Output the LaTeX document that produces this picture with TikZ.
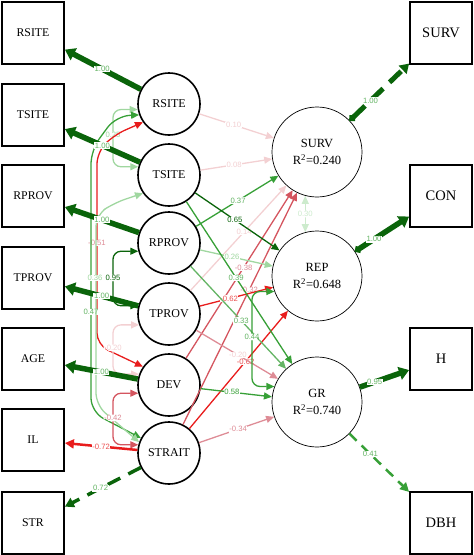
\documentclass[tikz,border=0pt]{standalone}
\usepackage{fontspec}
\setmainfont{Liberation Serif}
\newfontfamily\lblfont{Liberation Sans}
\usetikzlibrary{arrows.meta}
\definecolor{dkg}{RGB}{10,100,10}
\definecolor{mg}{RGB}{55,160,55}
\definecolor{lg}{RGB}{100,180,100}
\definecolor{pg}{RGB}{160,215,160}
\definecolor{ppg}{RGB}{205,235,205}
\definecolor{rd}{RGB}{232,28,28}
\definecolor{lrd}{RGB}{235,80,80}
\definecolor{mr}{RGB}{212,85,95}
\definecolor{pr}{RGB}{222,140,150}
\definecolor{pp}{RGB}{243,208,210}
\begin{document}
\begin{tikzpicture}[x=1pt,y=-1pt,
 obsL/.style={draw, line width=1.8pt, minimum width=62pt, minimum height=62pt, inner sep=0pt, font=\fontsize{11.8}{14}\selectfont},
 obsR/.style={draw, line width=1.8pt, minimum width=62pt, minimum height=62pt, inner sep=0pt, font=\fontsize{14.5}{16}\selectfont},
 latS/.style={circle, draw, line width=1.6pt, minimum size=62pt, inner sep=0pt, font=\fontsize{12}{14}\selectfont},
 latL/.style={circle, draw, line width=0.7pt, minimum size=90pt, inner sep=0pt, font=\fontsize{12.5}{17}\selectfont, align=center},
 lbl/.style={font=\lblfont\fontsize{7.7}{8}\selectfont, fill=white, inner sep=0.6pt},
 meas/.style={line width=5.5pt, draw=dkg, -{Triangle[length=10pt,width=13pt]}},
 spath/.style={line width=1.3pt, -{Triangle[length=8pt,width=7pt]}},
 cov/.style={line width=1.3pt, {Triangle[length=8pt,width=7pt]}-{Triangle[length=8pt,width=7pt]}, rounded corners=8pt},
]
\useasboundingbox (0,0) rectangle (474,555);
% observed boxes left
\node[obsL] (bRSITE) at (33,33) {RSITE};
\node[obsL] (bTSITE) at (33,115) {TSITE};
\node[obsL] (bRPROV) at (33,196) {RPROV};
\node[obsL] (bTPROV) at (33,278) {TPROV};
\node[obsL] (bAGE) at (33,359) {AGE};
\node[obsL] (bIL) at (33,440) {IL};
\node[obsL] (bSTR) at (33,523) {STR};
% observed boxes right
\node[obsR] (bSURV) at (441,33) {SURV};
\node[obsR] (bCON) at (441,196) {CON};
\node[obsR] (bH) at (441,359) {H};
\node[obsR] (bDBH) at (441,523) {DBH};
% latent small
\node[latS] (cRSITE) at (169,104) {RSITE};
\node[latS] (cTSITE) at (169,175) {TSITE};
\node[latS] (cRPROV) at (169,243) {RPROV};
\node[latS] (cTPROV) at (169,314) {TPROV};
\node[latS] (cDEV) at (169,385) {DEV};
\node[latS] (cSTRAIT) at (169,453) {STRAIT};
% latent large
\node[latL] (cSURV) at (317,152) {SURV\\R\textsuperscript{2}=0.240};
\node[latL] (cREP) at (317,276) {REP\\R\textsuperscript{2}=0.648};
\node[latL] (cGR) at (317,402) {GR\\R\textsuperscript{2}=0.740};

% left covariances
\draw[cov, draw=pg] (cRSITE.190) -| (113,135) node[lbl,text=pg]{0.25} |- (cTSITE.165);
\draw[cov, draw=rd, rounded corners=12pt] (cRSITE.215) -- (114,135) -- (97,152) -- (97,345) -- (cDEV.145);
\node[lbl, text=pr] (l051) at (97,243) {-0.51};
\draw[cov, draw=mg, rounded corners=14pt] (cRSITE.200) -- (116,116) -- (91,150) -- (91,412) -- (cSTRAIT.152);
\node[lbl, text=lg] (l047) at (91,312) {0.47};
\draw[cov, draw=pg, rounded corners=12pt] (cTSITE.215) -- (114,203) -- (96,215) -- (96,405) -- (cSTRAIT.160);
\node[lbl, text=pg] (l036) at (95,278) {0.36};
\draw[cov, draw=dkg] (cRPROV.195) -| (113,278) node[lbl,text=dkg]{0.95} |- (cTPROV.165);
\draw[cov, draw=pp] (cTPROV.200) -| (113,348) node[lbl,text=pp]{-0.20} |- (cDEV.160);
\draw[cov, draw=mr] (cDEV.195) -| (113,418) node[lbl,text=pr]{-0.42} |- (cSTRAIT.165);

% structural paths
\draw[spath, draw=pp] (cRSITE) -- node[lbl, text=pp, pos=0.46]{0.10} (cSURV);
\draw[spath, draw=pp] (cTSITE) -- node[lbl, text=pp, pos=0.47]{0.08} (cSURV);
\draw[spath, draw=mg] (cRPROV) -- node[lbl, text=lg, pos=0.51]{0.37} (cSURV);
\draw[spath, draw=pp] (cTPROV) -- node[lbl, text=pp, pos=0.56]{0.14} (cSURV);
\draw[spath, draw=mr] (cDEV) -- node[lbl, text=pr, pos=0.54]{-0.38} (cSURV);
\draw[spath, draw=mr] (cSTRAIT) -- node[lbl, text=pr, pos=0.58]{-0.32} (cSURV);
\draw[spath, draw=dkg] (cTSITE) -- node[lbl, text=dkg, pos=0.47]{0.65} (cREP);
\draw[spath, draw=pg] (cRPROV) -- node[lbl, text=pg, pos=0.44]{0.26} (cREP);
\draw[spath, draw=rd] (cTPROV) -- node[lbl, text=lrd, pos=0.40]{-0.62} (cREP);
\draw[spath, draw=rd] (cSTRAIT) -- node[lbl, text=lrd, pos=0.57]{-0.62} (cREP);
\draw[spath, draw=mg] (cTSITE) -- node[lbl, text=lg, pos=0.47]{0.39} (cGR);
\draw[spath, draw=lg] (cRPROV) -- node[lbl, text=lg, pos=0.53]{0.33} (cGR);
\draw[spath, draw=pr] (cTPROV) -- node[lbl, text=pp, pos=0.51]{-0.20} (cGR);
\draw[spath, draw=mg] (cDEV) -- node[lbl, text=mg, pos=0.44]{0.58} (cGR);
\draw[spath, draw=pr] (cSTRAIT) -- node[lbl, text=pr, pos=0.52]{-0.34} (cGR);
% right covariances
\draw[cov, draw=mg] (cREP.200) -| (252,337) node[lbl,text=lg]{0.44} |- (cGR.160);
\draw[cov, draw=ppg, line width=1pt] (cSURV.255) -- node[lbl, text=ppg]{0.30} (cREP.105);

% measurement paths left
\draw[meas] (cRSITE) -- node[lbl, text=lg, pos=0.51]{1.00} (bRSITE);
\draw[meas] (cTSITE) -- node[lbl, text=lg, pos=0.5]{1.00} (bTSITE);
\draw[meas] (cRPROV) -- node[lbl, text=lg, pos=0.5]{1.00} (bRPROV);
\draw[meas] (cTPROV) -- node[lbl, text=lg, pos=0.5]{1.00} (bTPROV);
\draw[meas] (cDEV) -- node[lbl, text=lg, pos=0.5]{1.00} (bAGE);
\draw[line width=2.5pt, draw=rd, -{Triangle[length=9pt,width=9pt]}] (cSTRAIT) -- node[lbl, text=lrd, pos=0.5]{-0.72} (bIL);
\draw[line width=3.5pt, draw=dkg, dash pattern=on 14pt off 9pt, -{Triangle[length=9pt,width=10pt]}] (cSTRAIT) -- node[lbl, text=lg, pos=0.53]{0.72} (bSTR);
% measurement paths right
\draw[line width=5pt, draw=dkg, dash pattern=on 16pt off 9pt, {Circle[length=7pt]}-{Triangle[length=9pt,width=11pt]}] (cSURV) -- node[lbl, text=lg, pos=0.35]{1.00} (bSURV);
\draw[meas, {Circle[length=7pt]}-{Triangle[length=10pt,width=13pt]}] (cREP) -- node[lbl, text=lg, pos=0.35]{1.00} (bCON);
\draw[meas] (cGR) -- node[lbl, text=lg, pos=0.3]{0.95} (bH);
\draw[line width=2.5pt, draw=mg, dash pattern=on 10pt off 7pt, -{Triangle[length=9pt,width=9pt]}] (cGR) -- node[lbl, text=lg, pos=0.35]{0.41} (bDBH);
\end{tikzpicture}
\end{document}
